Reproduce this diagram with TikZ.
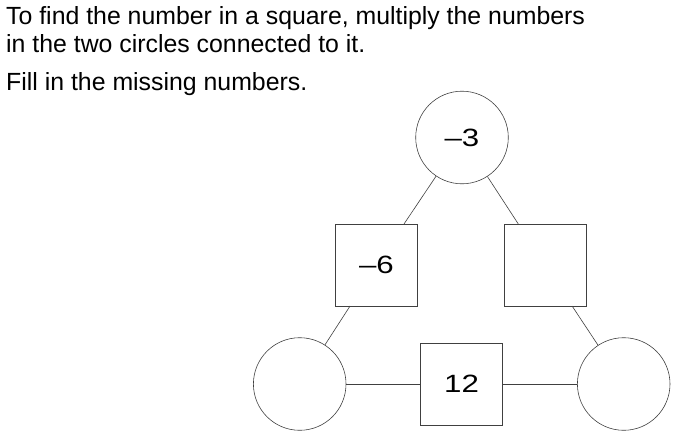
\documentclass[tikz,border=0pt]{standalone}
\usepackage{fontspec}
\setmainfont{Liberation Sans}
\newfontfamily\numberfont[FakeStretch=1.25]{Liberation Sans}
\begin{document}
\begin{tikzpicture}
[x=1pt,y=1pt,
  textdecorate/.style={anchor=base west,inner sep=0pt,font=\fontsize{24.85}{27}\selectfont},%
  circledecorate/.style={shape=circle,minimum size=92.6pt,inner sep=0pt,draw=black!75,line width=0.6pt,font=\numberfont\fontsize{25}{27}\selectfont},%
  squaredecorate/.style={shape=rectangle,minimum size=81.6pt,inner sep=0pt,draw=black!75,line width=0.6pt,font=\numberfont\fontsize{25}{27}\selectfont},%
  linedecorate/.style={draw=black!75,line width=0.6pt}]
\useasboundingbox (0,0) rectangle (675,-436);
% text
\node (line1) at (6,-25) [textdecorate] {To find the number in a square, multiply the numbers};
\node (line2) at (6,-52.3) [textdecorate] {in the two circles connected to it.};
\node (line3) at (6,-91) [textdecorate] {Fill in the missing numbers.};
% circles and squares
\node (top) at (462,-137.5) [circledecorate] {–3};
\node (left) at (299.7,-384) [circledecorate] {};
\node (right) at (623.7,-384) [circledecorate] {};
\node (topleft) at (376.5,-265) [squaredecorate] {–6};
\node (topright) at (545,-265) [squaredecorate] {};
\node (bottom) at (461.5,-384) [squaredecorate] {12};
% connections
\path
(top) edge[linedecorate] (topleft)
(top) edge[linedecorate] (topright)
(topleft) edge[linedecorate] (left)
(topright) edge[linedecorate] (right)
(left) edge[linedecorate] (bottom)
(bottom) edge[linedecorate] (right);
\end{tikzpicture}
\end{document}
